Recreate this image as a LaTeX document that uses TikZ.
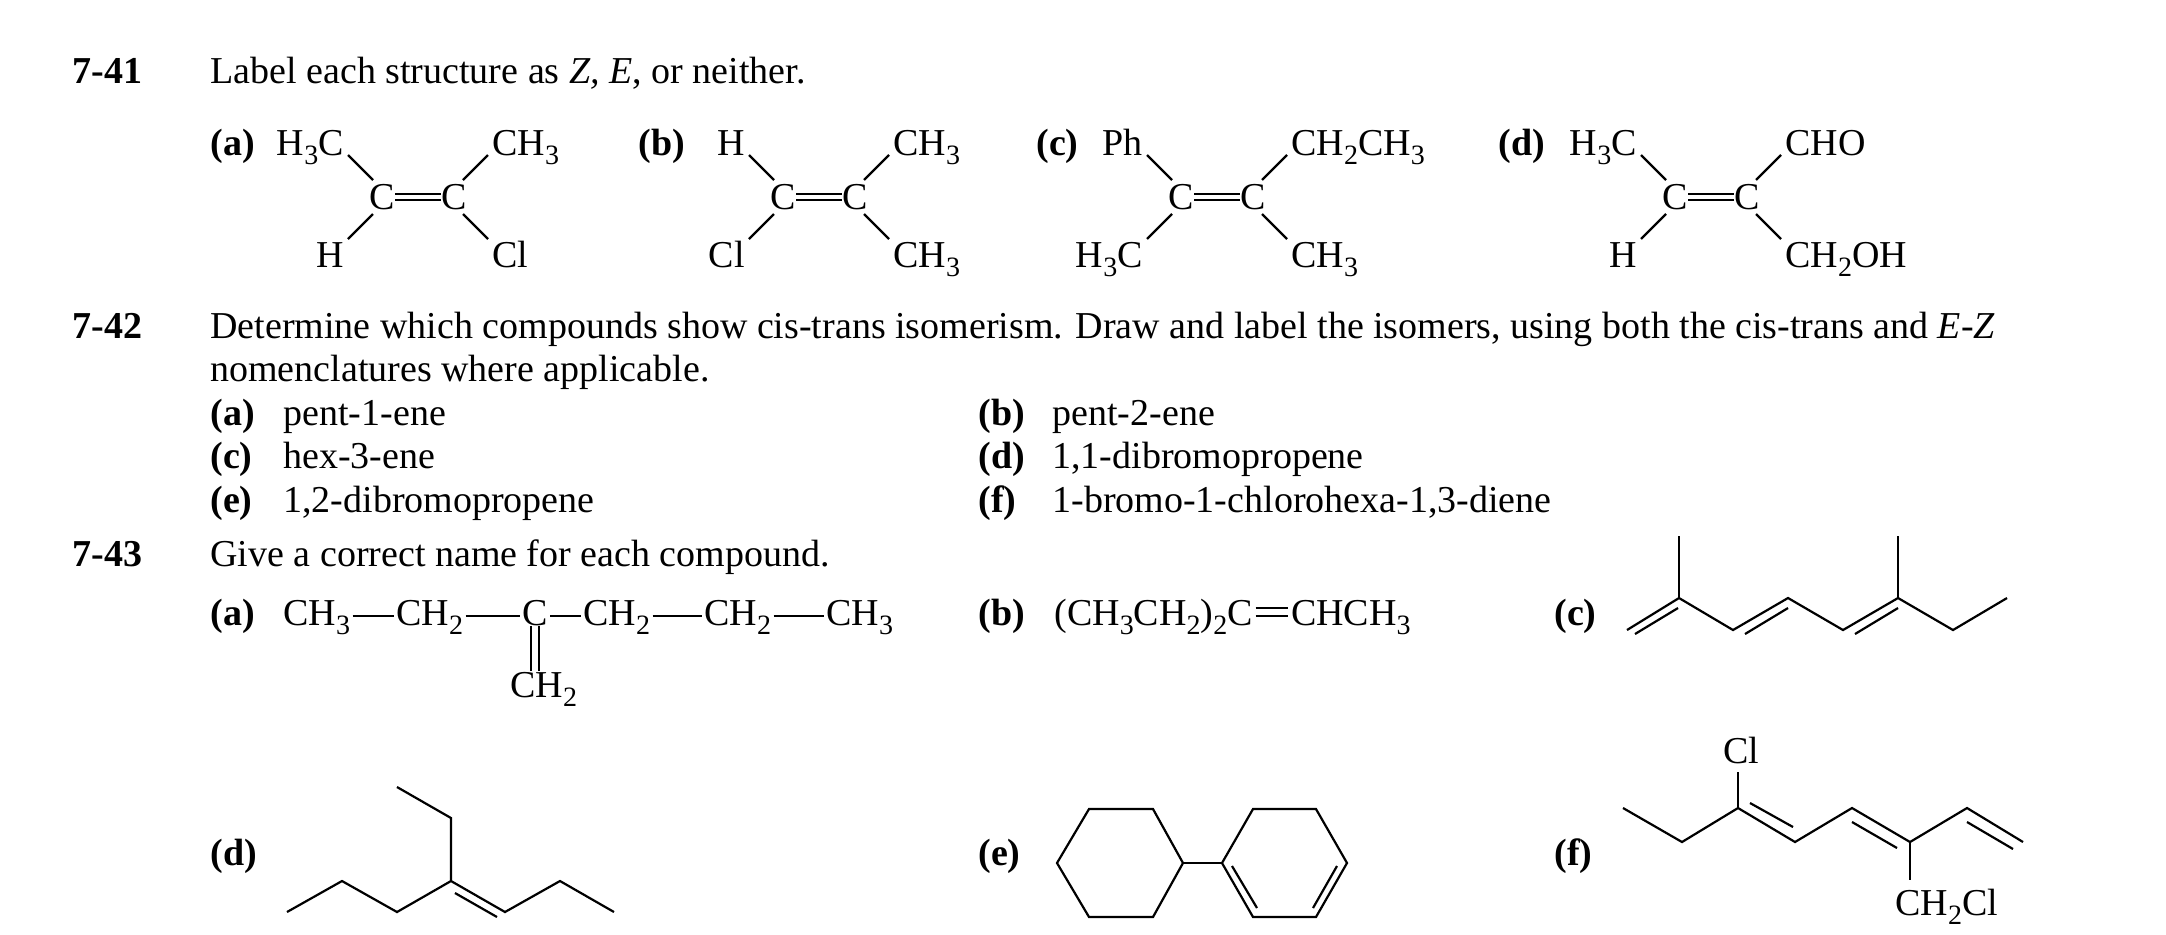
\documentclass[tikz,border=0pt]{standalone}
\usepackage{fontspec}
\setmainfont{Liberation Serif}
\newcommand\lo[1]{\raisebox{-0.55ex}{\fontsize{14}{14}\selectfont #1}}
\newcommand\dbond{\kern0.08em\raisebox{0.22em}{\rule{0.85em}{0.055em}}\kern-0.85em\raisebox{0.42em}{\rule{0.85em}{0.055em}}\kern0.08em}
\newcommand\cc[6]{%
  \node[atom] (#1c1) at (#2,197) {C};
  \node[atom] (#1c2) at (#2+72,197) {C};
  \draw[bond] ([yshift=1.6pt]#1c1.east) -- ([yshift=1.6pt]#1c2.west);
  \draw[bond] ([yshift=-1.6pt]#1c1.east) -- ([yshift=-1.6pt]#1c2.west);
  \node[txt,anchor=base east] (#1tl) at (#2-38,155) {#3};
  \node[txt,anchor=base east] (#1bl) at (#2-38,267) {#4};
  \node[txt,anchor=base west] (#1tr) at (#2+110,155) {#5};
  \node[txt,anchor=base west] (#1br) at (#2+110,267) {#6};
  \draw[bond] ([shift={(-9,-17)}]#1c1.center) -- ([shift={(-34,-42)}]#1c1.center);
  \draw[bond] ([shift={(-9,17)}]#1c1.center) -- ([shift={(-34,42)}]#1c1.center);
  \draw[bond] ([shift={(9,-17)}]#1c2.center) -- ([shift={(34,-42)}]#1c2.center);
  \draw[bond] ([shift={(9,17)}]#1c2.center) -- ([shift={(34,42)}]#1c2.center);
}
\begin{document}
\begin{tikzpicture}[x=0.5pt,y=-0.5pt,
  txt/.style={inner sep=0pt,font=\fontsize{19}{22}\selectfont},
  atom/.style={txt},
  bnum/.style={txt,font=\fontsize{19}{22}\selectfont\bfseries,anchor=base west},
  bond/.style={line width=1.1pt},
  skel/.style={line width=1.1pt,line join=miter}]
\useasboundingbox (0,0) rectangle (2166,934);
% 7-41
\node[bnum] (h1) at (72,83) {7-41};
\node[txt,anchor=base west] (t1) at (210,83) {Label each structure as \textit{Z, E}, or neither.};
\node[bnum] (la) at (210,155) {(a)};
\cc{a}{382}{H\lo{3}C}{H}{CH\lo{3}}{Cl}
\node[bnum] (lb) at (638,155) {(b)};
\cc{b}{783}{H}{Cl}{CH\lo{3}}{CH\lo{3}}
\node[bnum] (lc) at (1036,155) {(c)};
\cc{c}{1181}{Ph}{H\lo{3}C}{CH\lo{2}CH\lo{3}}{CH\lo{3}}
\node[bnum] (ld) at (1498,155) {(d)};
\cc{d}{1675}{H\lo{3}C}{H}{CHO}{CH\lo{2}OH}
% 7-42
\node[bnum] (h2) at (72,338) {7-42};
\node[txt,anchor=base west] (t2) at (210,338) {Determine which compounds show cis-trans isomerism. Draw and label the isomers, using both the cis-trans and \textit{E-Z}};
\node[txt,anchor=base west] (t2b) at (210,381) {nomenclatures where applicable.};
\node[bnum] (pa) at (210,425) {(a)}; \node[txt,anchor=base west] (na) at (283,425) {pent-1-ene};
\node[bnum] (pc) at (210,468) {(c)}; \node[txt,anchor=base west] (nc) at (283,468) {hex-3-ene};
\node[bnum] (pe) at (210,512) {(e)}; \node[txt,anchor=base west] (ne) at (283,512) {1,2-dibromopropene};
\node[bnum] (pb) at (978,425) {(b)}; \node[txt,anchor=base west] (nb) at (1052,425) {pent-2-ene};
\node[bnum] (pd) at (978,468) {(d)}; \node[txt,anchor=base west] (nd) at (1052,468) {1,1-dibromopropene};
\node[bnum] (pf) at (978,512) {(f)}; \node[txt,anchor=base west] (nf) at (1052,512) {1-bromo-1-chlorohexa-1,3-diene};
% 7-43
\node[bnum] (h3) at (72,566) {7-43};
\node[txt,anchor=base west] (t3) at (210,566) {Give a correct name for each compound.};
\node[bnum] (qa) at (210,625) {(a)};
\node[txt,anchor=base west] (f1) at (283,625) {CH\lo{3}};
\node[txt,anchor=base west] (f2) at (396,625) {CH\lo{2}};
\node[txt,anchor=base west] (f3) at (522,625) {C};
\node[txt,anchor=base west] (f4) at (583,625) {CH\lo{2}};
\node[txt,anchor=base west] (f5) at (704,625) {CH\lo{2}};
\node[txt,anchor=base west] (f6) at (826,625) {CH\lo{3}};
\node[txt,anchor=base west] (f7) at (510,697) {CH\lo{2}};
\foreach \a/\b in {f1/f2,f2/f3,f3/f4,f4/f5,f5/f6}
  \draw[bond] ([xshift=1pt]\a.east |- 0,616) -- ([xshift=-1pt]\b.west |- 0,616);
\draw[bond] ([xshift=-2pt]f3.south) -- ([xshift=-2pt]f3.south |- f7.north);
\draw[bond] ([xshift=2pt]f3.south) -- ([xshift=2pt]f3.south |- f7.north);
\node[bnum] (qb) at (978,625) {(b)};
\node[txt,anchor=base west] (fb) at (1054,625) {(CH\lo{3}CH\lo{2})\lo{2}C\dbond CHCH\lo{3}};
\node[bnum] (qc) at (1554,625) {(c)};
\draw[skel] (1627,630) -- (1679,598) -- (1733,630) -- (1788,598) -- (1843,630) -- (1898,598) -- (1953,630) -- (2007,598);
\draw[skel] (1679,598) -- (1679,536);
\draw[skel] (1898,598) -- (1898,536);
\draw[skel] (1635,634) -- (1678,608);
\draw[skel] (1745,634) -- (1788,608);
\draw[skel] (1855,634) -- (1898,608);
% (d)
\node[bnum] (qd) at (210,865) {(d)};
\draw[skel] (287,912) -- (342,881) -- (397,912) -- (451,881) -- (505,912) -- (560,881) -- (614,912);
\draw[skel] (451,881) -- (451,818) -- (397,787);
\draw[skel] (455,893) -- (497,917);
% (e)
\node[bnum] (qe) at (978,865) {(e)};
\draw[skel] (1057,863) -- (1089,809) -- (1153,809) -- (1183,863) -- (1153,917) -- (1089,917) -- cycle;
\draw[skel] (1222,863) -- (1253,809) -- (1316,809) -- (1347,863) -- (1316,917) -- (1253,917) -- cycle;
\draw[skel] (1183,863) -- (1222,863);
\draw[skel] (1232,866) -- (1257,908);
\draw[skel] (1337,866) -- (1313,908);
% (f)
\node[bnum] (qf) at (1554,865) {(f)};
\draw[skel] (1623,808) -- (1682,842) -- (1738,808) -- (1795,842) -- (1852,808) -- (1910,842) -- (1967,808) -- (2023,842);
\draw[skel] (1738,808) -- (1738,772);
\draw[skel] (1910,842) -- (1910,880);
\draw[skel] (1750,803) -- (1793,827);
\draw[skel] (1852,822) -- (1897,848);
\draw[skel] (1967,822) -- (2013,849);
\node[txt,anchor=base] (cl) at (1741,763) {Cl};
\node[txt,anchor=base west] (ch2cl) at (1895,915) {CH\lo{2}Cl};
\end{tikzpicture}
\end{document}
